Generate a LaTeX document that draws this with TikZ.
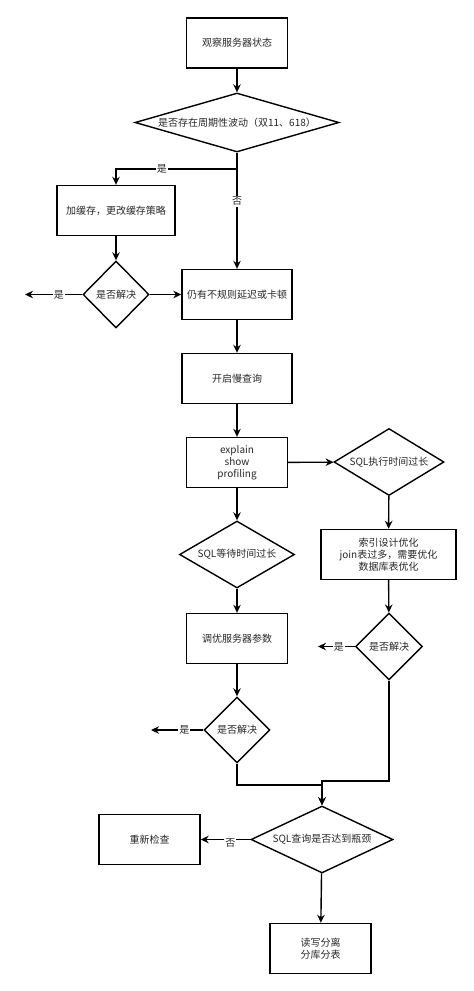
\documentclass[tikz,border=0pt]{standalone}
\usepackage{fontspec}
\setmainfont{Noto Sans CJK SC}
\usetikzlibrary{arrows.meta, shapes.geometric, calc}
\definecolor{txtgray}{RGB}{40,40,40}

\begin{document}
\begin{tikzpicture}[x=1pt, y=-1pt,
    every node/.style={font=\fontsize{10}{12}\selectfont, text=txtgray, align=center},
    box/.style={draw, line width=1.4pt, minimum width=101pt, minimum height=50pt, inner sep=2pt},
    dec/.style={draw, diamond, line width=1.4pt, inner sep=0pt},
    arr/.style={line width=1.4pt, -{Stealth[length=8pt, width=7.5pt]}},
    lbl/.style={fill=white, inner sep=1pt}]
    \useasboundingbox (0,0) rectangle (474,991);
    % main column
    \node[box] (obs) at (237,43) {观察服务器状态};
    \node[dec, shape aspect=3.4, minimum width=204pt, minimum height=59pt] (cyc) at (237,122.5) {是否存在周期性波动（双11、618）};
    \node[box, minimum width=118pt] (cache) at (116,210.5) {加缓存，更改缓存策略};
    \node[dec, minimum width=66pt, minimum height=67pt] (chka) at (116,294.5) {是否解决};
    \node[box, minimum width=110pt] (still) at (237,294.5) {仍有不规则延迟或卡顿};
    \node[box, minimum width=110pt] (slow) at (237,378.5) {开启慢查询};
    \node[box] (expl) at (237,462.5) {explain\\show\\profiling};
    % left branch
    \node[dec, shape aspect=1.7, minimum width=115pt, minimum height=67pt] (wait) at (237,554.5) {SQL等待时间过长};
    \node[box] (tune) at (237,638.5) {调优服务器参数};
    \node[dec, minimum width=66pt, minimum height=66pt] (chkb) at (237,730) {是否解决};
    % right branch
    \node[dec, shape aspect=1.8, minimum width=110pt, minimum height=67pt] (exec) at (389,462) {SQL执行时间过长};
    \node[box, minimum width=135pt] (index) at (388.5,554.5) {索引设计优化\\join表过多，需要优化\\数据库表优化};
    \node[dec, minimum width=67pt, minimum height=67pt] (chkc) at (389,646.5) {是否解决};
    % bottom
    \node[dec, shape aspect=2, minimum width=142pt, minimum height=67pt] (neck) at (322,839.5) {SQL查询是否达到瓶颈};
    \node[box] (recheck) at (149.5,839.5) {重新检查};
    \node[box] (split) at (320.5,948.5) {读写分离\\分库分表};
    % free ends and bends
    \coordinate (fork) at (237,169);
    \coordinate (outa) at (25,294.5);
    \coordinate (outb) at (151,730);
    \coordinate (outc) at (318,646.5);
    \coordinate (joinb) at (322,785);
    \coordinate (joinc) at (322,781);

    \draw[arr] (obs) -- (cyc);
    \draw[arr] (cyc) -- node[lbl, pos=0.42] {否} (still);
    \draw[arr] (cyc.south) -- (fork) -| node[lbl, pos=0.31] {是} (cache);
    \draw[arr] (cache) -- (chka);
    \draw[arr] (chka) -- (still);
    \draw[arr] (chka) -- node[lbl, pos=0.41] {是} (outa);
    \draw[arr] (still) -- (slow);
    \draw[arr] (slow) -- (expl);
    \draw[arr] (expl) -- (exec);
    \draw[arr] (expl) -- (wait);
    \draw[arr] (wait) -- (tune);
    \draw[arr] (tune) -- (chkb);
    \draw[arr] (chkb) -- node[lbl, pos=0.36] {是} (outb);
    \draw[arr] (exec) -- (index);
    \draw[arr] (index) -- (chkc);
    \draw[arr] (chkc) -- node[lbl, pos=0.43] {是} (outc);
    \draw[arr] (chkb.south) |- (joinb) -- (neck.north);
    \draw[arr] (chkc.south) |- (joinc) -- (neck.north);
    \draw[arr] (neck) -- node[lbl, pos=0.4, yshift=-3pt] {否} (recheck);
    \draw[arr] (neck) -- (split);
\end{tikzpicture}
\end{document}
